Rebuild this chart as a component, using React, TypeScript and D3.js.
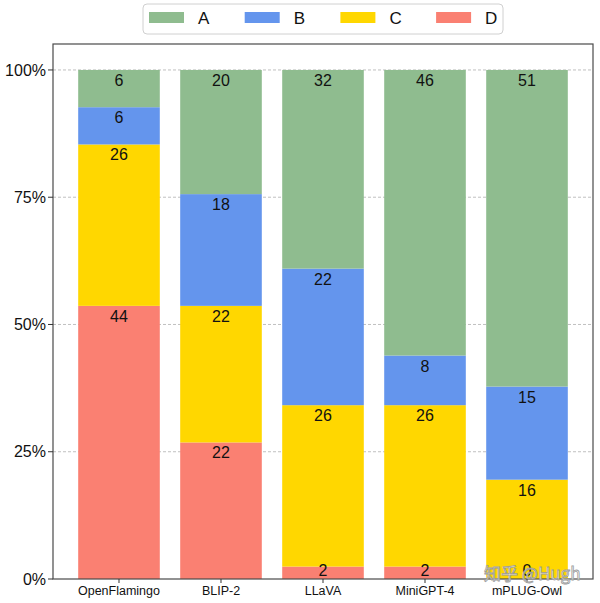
import React, { useMemo } from 'react';
import * as d3 from 'd3';

// answer counts per model, stacked as share of total
const models = ['OpenFlamingo', 'BLIP-2', 'LLaVA', 'MiniGPT-4', 'mPLUG-Owl'];
const countsA = [6, 20, 32, 46, 51];
const countsB = [6, 18, 22, 8, 15];
const countsC = [26, 22, 26, 26, 16];
const countsD = [44, 22, 2, 2, 0];
const legendKeys = ['A', 'B', 'C', 'D'];
const stackKeys = ['D', 'C', 'B', 'A'];
const colors: Record<string, string> = {
  A: '#8fbc8f',
  B: '#6495ed',
  C: '#ffd700',
  D: '#fa8072'
};
const yTicks = [0, 0.25, 0.5, 0.75, 1];

const FONT = '"Liberation Sans", Arial, Helvetica, sans-serif';

const App: React.FC = () => {
  const width = 600;
  const height = 603;
  const margin = { top: 44, right: 7, bottom: 24, left: 53 };
  const x0 = margin.left;
  const x1 = width - margin.right;
  const y0 = height - margin.bottom;
  const y1 = margin.top;

  const rows = useMemo(
    () =>
      models.map((m, i) => ({
        model: m,
        A: countsA[i],
        B: countsB[i],
        C: countsC[i],
        D: countsD[i]
      })),
    []
  );

  const series = useMemo(
    () =>
      d3
        .stack<any>()
        .keys(stackKeys)
        .offset(d3.stackOffsetExpand)(rows),
    [rows]
  );

  const xScale = d3
    .scaleBand()
    .domain(models)
    .range([x0, x1])
    .paddingInner(0.2)
    .paddingOuter(0.247);

  const yScale = d3.scaleLinear().domain([0, 1.051]).range([y0, y1]);
  const bw = xScale.bandwidth();

  return (
    <div style={{ position: 'absolute', left: 0, top: 0 }}>
      <svg width={width} height={height} style={{ display: 'block', background: '#fff' }} fontFamily={FONT}>
        {/* grid */}
        {yTicks.slice(1).map(t => (
          <line
            key={'g' + t}
            x1={x0}
            x2={x1}
            y1={yScale(t)}
            y2={yScale(t)}
            stroke="#b0b0b0"
            strokeWidth={0.8}
            strokeDasharray="3,2"
          />
        ))}

        {/* bars */}
        {series.map(s =>
          s.map((d, i) => {
            const m = models[i];
            const top = yScale(d[1]);
            const bot = yScale(d[0]);
            return (
              <rect
                key={s.key + m}
                x={xScale(m)!}
                y={top}
                width={bw}
                height={Math.max(0, bot - top)}
                fill={colors[s.key]}
              />
            );
          })
        )}

        {/* segment labels */}
        {series.map(s =>
          s.map((d, i) => {
            const m = models[i];
            const val = (rows[i] as any)[s.key];
            const ty = Math.min(yScale(d[1]) + 16, y0 - 3);
            return (
              <text
                key={'t' + s.key + m}
                x={xScale(m)! + bw / 2}
                y={ty}
                textAnchor="middle"
                fontSize={16}
                fill="#111"
              >
                {val}
              </text>
            );
          })
        )}

        {/* frame */}
        <rect x={x0} y={y1} width={x1 - x0} height={y0 - y1} fill="none" stroke="#4a4a4a" strokeWidth={1.2} />

        {/* y axis */}
        {yTicks.map(t => (
          <g key={'y' + t}>
            <line x1={x0 - 5} x2={x0} y1={yScale(t)} y2={yScale(t)} stroke="#333" strokeWidth={1} />
            <text x={x0 - 7} y={yScale(t)} dy="0.35em" textAnchor="end" fontSize={16} fill="#111">
              {d3.format('.0%')(t)}
            </text>
          </g>
        ))}

        {/* x axis */}
        {models.map(m => (
          <g key={'x' + m}>
            <line
              x1={xScale(m)! + bw / 2}
              x2={xScale(m)! + bw / 2}
              y1={y0}
              y2={y0 + 4}
              stroke="#333"
              strokeWidth={1}
            />
            <text x={xScale(m)! + bw / 2} y={y0 + 16} textAnchor="middle" fontSize={12.5} fill="#111">
              {m}
            </text>
          </g>
        ))}

        {/* legend */}
        <rect x={143} y={4} width={360} height={30} rx={4} fill="#fff" stroke="#d0d0d0" strokeWidth={1} />
        {legendKeys.map((k, i) => (
          <g key={'l' + k} transform={`translate(${149 + i * 95.7}, 12)`}>
            <rect width={35} height={11} fill={colors[k]} />
            <text x={49} y={12} fontSize={17} fill="#111">
              {k}
            </text>
          </g>
        ))}

        {/* watermark */}
        <text
          x={484}
          y={580}
          fontSize={17}
          fill="#fff"
          fillOpacity={0.8}
          stroke="#9a9a9a"
          strokeWidth={0.8}
          fontFamily={'"Noto Sans CJK SC", sans-serif'}
        >
          知乎 @Hugh
        </text>
      </svg>
    </div>
  );
};

export default App;
